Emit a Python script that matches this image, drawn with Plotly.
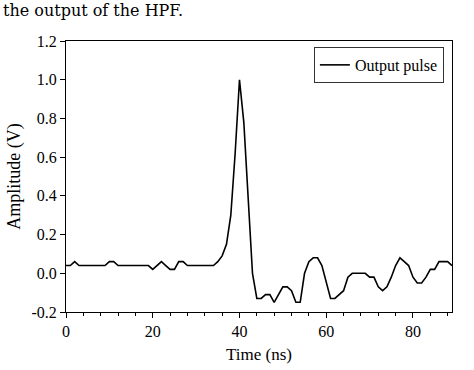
import plotly.graph_objects as go

time_ns = list(range(0, 90))
amplitude = [
    0.04, 0.04, 0.06, 0.04, 0.04, 0.04, 0.04, 0.04, 0.04, 0.04,   # 0-9
    0.06, 0.06, 0.04, 0.04, 0.04, 0.04, 0.04, 0.04, 0.04, 0.04,   # 10-19
    0.02, 0.04, 0.06, 0.04, 0.02, 0.02, 0.06, 0.06, 0.04, 0.04,   # 20-29
    0.04, 0.04, 0.04, 0.04, 0.04, 0.06, 0.09, 0.15, 0.30, 0.62,   # 30-39
    1.00, 0.78, 0.42, 0.00, -0.13, -0.13, -0.11, -0.11, -0.15, -0.11,  # 40-49
    -0.07, -0.07, -0.09, -0.15, -0.15, 0.00, 0.06, 0.08, 0.08, 0.04,   # 50-59
    -0.04, -0.13, -0.13, -0.11, -0.09, -0.02, 0.00, 0.00, 0.00, 0.00,  # 60-69
    -0.02, -0.02, -0.07, -0.09, -0.07, -0.02, 0.04, 0.08, 0.06, 0.04,  # 70-79
    -0.02, -0.05, -0.05, -0.02, 0.02, 0.02, 0.06, 0.06, 0.06, 0.04,    # 80-89
]

x_ticks = [0, 20, 40, 60, 80]
y_ticks = [-0.2, 0.0, 0.2, 0.4, 0.6, 0.8, 1.0, 1.2]
y_tick_labels = ["-0.2", "0.0", "0.2", "0.4", "0.6", "0.8", "1.0", "1.2"]

serif = "Liberation Serif, Times New Roman, serif"

fig = go.Figure()
fig.add_trace(go.Scatter(
    x=time_ns, y=amplitude, mode="lines", name="Output pulse",
    line=dict(color="black", width=1.6),
))

fig.update_layout(
    width=474, height=370,
    margin=dict(l=66, r=22, t=41, b=58, autoexpand=False),
    paper_bgcolor="white", plot_bgcolor="white",
    font=dict(family=serif, size=16, color="black"),
    showlegend=True,
    legend=dict(
        x=0.979, y=0.978, xanchor="right", yanchor="top",
        bordercolor="#333333", borderwidth=1, bgcolor="white",
        font=dict(family=serif, size=16, color="black"),
    ),
    annotations=[dict(
        text="the output of the HPF.", xref="paper", yref="paper",
        x=-0.168, y=1.155, xanchor="left", yanchor="top",
        showarrow=False, font=dict(family="DejaVu Serif, serif", size=16, color="black"),
    )],
)

fig.update_xaxes(
    range=[0, 89], tickmode="array", tickvals=x_ticks,
    ticks="outside", ticklen=5, tickwidth=1, tickcolor="black",
    minor=dict(dtick=4, ticks="outside", ticklen=3, tickcolor="black", tick0=0),
    showline=True, linecolor="black", linewidth=1, mirror=True,
    showgrid=False, zeroline=False,
    title=dict(text="Time (ns)", font=dict(family=serif, size=17), standoff=8),
    tickfont=dict(family=serif, size=16),
)
fig.update_yaxes(
    range=[-0.2, 1.2], tickmode="array", tickvals=y_ticks, ticktext=y_tick_labels,
    ticks="outside", ticklen=5, tickwidth=1, tickcolor="black",
    showline=True, linecolor="black", linewidth=1, mirror=True,
    showgrid=False, zeroline=False,
    title=dict(text="Amplitude (V)", font=dict(family=serif, size=18), standoff=6),
    tickfont=dict(family=serif, size=16),
)

fig.write_html("out.html", config={"displayModeBar": False},
               post_script="document.body.style.margin='0';")
